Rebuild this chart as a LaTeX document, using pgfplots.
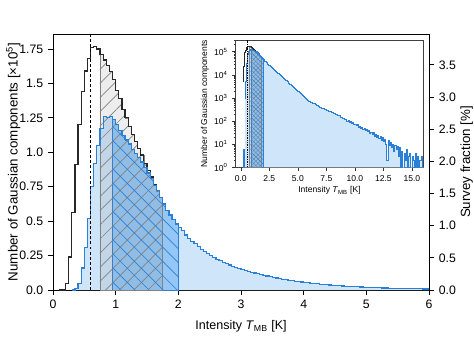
\documentclass[border=0pt]{standalone}
\usepackage{fontspec}
\setmainfont{Liberation Sans}
\usepackage{pgfplots}
\pgfplotsset{compat=1.18}
\usepackage{pgfplotstable}
\usetikzlibrary{patterns.meta}

\definecolor{lblue}{RGB}{207,229,250}
\definecolor{mblue}{RGB}{148,199,245}
\definecolor{bline}{RGB}{42,128,214}
\definecolor{hgray}{RGB}{130,130,130}
\definecolor{kline}{RGB}{40,40,40}

\pgfplotsset{/pgf/number format/assume math mode=true}

% bins of 0.05 K (left edges); values in units of 1e5 components
\pgfplotstableread{
x all sel
0.00 0 0
0.05 0 0
0.10 0 0
0.15 0 0
0.20 0.05 0
0.25 0.24 0
0.30 0.56 0
0.35 0.91 0.01
0.40 1.20 0.05
0.45 1.44 0.16
0.50 1.59 0.31
0.55 1.68 0.52
0.60 1.76 0.75
0.65 1.77 0.92
0.70 1.75 1.05
0.75 1.71 1.17
0.80 1.67 1.26
0.85 1.63 1.25
0.90 1.585 1.26
0.95 1.53 1.24
1.00 1.45 1.20
1.05 1.39 1.16
1.10 1.31 1.12
1.15 1.25 1.09
1.20 1.19 1.06
1.25 1.13 1.02
1.30 1.08 0.99
1.35 1.03 0.96
1.40 0.98 0.93
1.45 0.92 0.89
1.50 0.87 0.85
1.55 0.82 0.81
1.60 0.765 0.76
1.65 0.72 0.72
1.70 0.67 0.67
1.75 0.625 0.625
1.80 0.58 0.58
1.85 0.545 0.545
1.90 0.51 0.51
1.95 0.48 0.48
2.00 0.455 0.455
2.05 0.43 0.43
2.10 0.40 0.40
2.15 0.375 0.375
2.20 0.355 0.355
2.25 0.335 0.335
2.30 0.315 0.315
2.35 0.297 0.297
2.40 0.28 0.28
2.45 0.264 0.264
2.50 0.25 0.25
2.55 0.237 0.237
2.60 0.224 0.224
2.65 0.212 0.212
2.70 0.201 0.201
2.75 0.191 0.191
2.80 0.181 0.181
2.85 0.172 0.172
2.90 0.164 0.164
2.95 0.156 0.156
3.00 0.150 0.150
3.05 0.143 0.143
3.10 0.136 0.136
3.15 0.129 0.129
3.20 0.123 0.123
3.25 0.117 0.117
3.30 0.111 0.111
3.35 0.106 0.106
3.40 0.101 0.101
3.45 0.096 0.096
3.50 0.091 0.091
3.55 0.087 0.087
3.60 0.082 0.082
3.65 0.078 0.078
3.70 0.074 0.074
3.75 0.071 0.071
3.80 0.067 0.067
3.85 0.064 0.064
3.90 0.061 0.061
3.95 0.058 0.058
4.00 0.055 0.055
4.05 0.052 0.052
4.10 0.0496 0.0496
4.15 0.0471 0.0471
4.20 0.0447 0.0447
4.25 0.0425 0.0425
4.30 0.0404 0.0404
4.35 0.0383 0.0383
4.40 0.0364 0.0364
4.45 0.0346 0.0346
4.50 0.0329 0.0329
4.55 0.0312 0.0312
4.60 0.0297 0.0297
4.65 0.0282 0.0282
4.70 0.0268 0.0268
4.75 0.0254 0.0254
4.80 0.0242 0.0242
4.85 0.0230 0.0230
4.90 0.0218 0.0218
4.95 0.0207 0.0207
5.00 0.0197 0.0197
5.05 0.0187 0.0187
5.10 0.0178 0.0178
5.15 0.0169 0.0169
5.20 0.0160 0.0160
5.25 0.0152 0.0152
5.30 0.0145 0.0145
5.35 0.0137 0.0137
5.40 0.0131 0.0131
5.45 0.0124 0.0124
5.50 0.0118 0.0118
5.55 0.0112 0.0112
5.60 0.0106 0.0106
5.65 0.0101 0.0101
5.70 0.0096 0.0096
5.75 0.0091 0.0091
5.80 0.0087 0.0087
5.85 0.0082 0.0082
5.90 0.0078 0.0078
5.95 0.0074 0.0074
6.00 0.0071 0.0071
}\histtab

% inset tail, bins of 0.1 K, same units (1e5 components)
\pgfplotstableread{
x y
6.0 7.08e-3
6.1 6.65e-3
6.2 6.25e-3
6.3 5.9e-3
6.4 5.55e-3
6.5 5.2e-3
6.6 4.9e-3
6.7 4.6e-3
6.8 4.32e-3
6.9 4.05e-3
7.0 3.8e-3
7.1 3.6e-3
7.2 3.45e-3
7.3 3.22e-3
7.4 3.12e-3
7.5 2.92e-3
7.6 2.81e-3
7.7 2.62e-3
7.8 2.55e-3
7.9 2.38e-3
8.0 2.29e-3
8.1 2.12e-3
8.2 2.08e-3
8.3 1.9e-3
8.4 1.86e-3
8.5 1.7e-3
8.6 1.68e-3
8.7 1.5e-3
8.8 1.48e-3
8.9 1.35e-3
9.0 1.32e-3
9.1 1.18e-3
9.2 1.2e-3
9.3 1.0e-3
9.4 1.08e-3
9.5 9.2e-4
9.6 9.5e-4
9.7 8.0e-4
9.8 8.6e-4
9.9 7.0e-4
10.0 7.4e-4
10.1 6.6e-4
10.2 7.0e-4
10.3 5.5e-4
10.4 6.0e-4
10.5 5.0e-4
10.6 5.6e-4
10.7 4.4e-4
10.8 4.8e-4
10.9 3.8e-4
11.0 4.2e-4
11.1 3.5e-4
11.2 4.0e-4
11.3 3.0e-4
11.4 3.3e-4
11.5 2.6e-4
11.6 3.1e-4
11.7 2.2e-4
11.8 2.7e-4
11.9 1.9e-4
12.0 2.4e-4
12.1 1.8e-4
12.2 2.2e-4
12.3 1.5e-4
12.4 1.9e-4
12.5 1.3e-4
12.6 1.7e-4
12.7 1.0e-4
12.8 2e-5
12.9 1.4e-4
13.0 9e-5
13.1 1.2e-4
13.2 7e-5
13.3 1.0e-4
13.4 5e-5
13.5 9e-5
13.6 6e-5
13.7 8e-5
13.8 3e-5
13.9 7e-5
14.0 1e-6
14.1 5e-5
14.2 1e-6
14.3 4e-5
14.4 2e-5
14.5 6e-5
14.6 1e-6
14.7 3e-5
14.8 4e-5
14.9 1e-6
15.0 3e-5
15.1 2e-5
15.2 1e-6
15.3 4e-5
15.4 1e-5
15.5 3e-5
15.6 1e-6
15.7 2e-5
15.8 3e-5
15.9 1e-6
16.0 1e-5
}\tailtab

\begin{document}
\begin{tikzpicture}
\path[use as bounding box] (-39.75pt,-36.75pt) rectangle (315.75pt,217.5pt);

% ---------------- main axis ----------------
\begin{axis}[
  at={(0pt,0pt)}, anchor=south west,
  width=282pt, height=192pt, scale only axis,
  xmin=0, xmax=6, ymin=0, ymax=1.859,
  xtick={0,1,2,3,4,5,6},
  ytick={0,0.25,0.5,0.75,1.0,1.25,1.5,1.75},
  yticklabels={0.0,0.25,0.5,0.75,1.0,1.25,1.5,1.75},
  tick align=outside, xtick pos=bottom, ytick pos=left,
  major tick length=3.8pt,
  every tick/.style={black, line width=0.6pt},
  axis line style={line width=0.7pt, black},
  tick label style={font=\fontsize{9.2}{11}\selectfont},
  label style={font=\fontsize{9.4}{11}\selectfont},
  xlabel={Intensity \textit{T}\textsubscript{MB} [K]},
  ylabel={Number of Gaussian components [×10\textsuperscript{5}]},
  xlabel style={yshift=-2pt},
  every axis y label/.style={at={(axis description cs:0,0.5)}, xshift=-21pt, anchor=south, rotate=90},
]
% light blue area under selected histogram
\addplot[const plot, fill=lblue, draw=none, restrict x to domain=0.3:6.01]
  table[x=x, y=sel]{\histtab} \closedcycle;
% medium blue band 0.95-2.0
\addplot[const plot, fill=mblue, draw=bline, line width=0.5pt, restrict x to domain=0.949:2.001]
  table[x=x, y=sel]{\histtab} \closedcycle;
% grey band 0.75-1.75 under full histogram
\addplot[const plot, fill=gray, fill opacity=0.14, draw=hgray, line width=0.5pt, restrict x to domain=0.749:1.751]
  table[x=x, y=all]{\histtab} \closedcycle;
% hatches
\addplot[const plot, draw=none, pattern={Lines[angle=45,distance=7.5pt,line width=0.5pt]}, pattern color=hgray,
  restrict x to domain=0.749:1.751]
  table[x=x, y=all]{\histtab} \closedcycle;
\addplot[const plot, draw=none, pattern={Lines[angle=-45,distance=7.5pt,line width=0.5pt]}, pattern color=bline,
  restrict x to domain=0.949:2.001]
  table[x=x, y=sel]{\histtab} \closedcycle;
% histogram outlines
\addplot[const plot, draw=kline, line width=0.9pt, restrict x to domain=0.1:6.01]
  table[x=x, y=all]{\histtab};
\addplot[const plot, draw=bline, line width=0.9pt, restrict x to domain=0.3:6.01]
  table[x=x, y=sel]{\histtab};
% threshold
\addplot[black, dash pattern=on 2.2pt off 1.6pt, line width=0.6pt] coordinates {(0.6,0) (0.6,1.859)};
\end{axis}

% ---------------- right axis ----------------
\begin{axis}[
  at={(0pt,0pt)}, anchor=south west,
  width=282pt, height=192pt, scale only axis,
  xmin=0, xmax=6, ymin=0, ymax=3.98,
  axis x line=none, axis y line*=right,
  ytick={0,0.5,1,1.5,2,2.5,3,3.5},
  yticklabel style={/pgf/number format/.cd, fixed, fixed zerofill, precision=1},
  tick align=outside, major tick length=3.8pt,
  every tick/.style={black, line width=0.6pt},
  axis line style={line width=0.7pt, black},
  tick label style={font=\fontsize{9.2}{11}\selectfont},
  label style={font=\fontsize{9.4}{11}\selectfont},
  ylabel={Survey fraction [\%]},
  every axis y label/.style={at={(axis description cs:1,0.5)}, xshift=20pt, anchor=north, rotate=90},
]
\addplot[draw=none] coordinates {(0,0)};
\end{axis}

% ---------------- inset ----------------
\begin{axis}[
  at={(137pt,92pt)}, anchor=south west,
  width=140.7pt, height=95.5pt, scale only axis,
  xmin=-0.45, xmax=16, ymode=log, ymin=1e-5, ymax=3.2,
  log origin y=infty,
  axis background/.style={fill=white},
  xtick={0,2.5,5,7.5,10,12.5,15},
  xticklabel style={/pgf/number format/.cd, fixed, fixed zerofill, precision=1},
  ytick={1e-5,1e-4,1e-3,1e-2,1e-1,1},
  yticklabels={10\textsuperscript{0},10\textsuperscript{1},10\textsuperscript{2},10\textsuperscript{3},10\textsuperscript{4},10\textsuperscript{5}},
  minor ytick={2e-5,3e-5,4e-5,5e-5,6e-5,7e-5,8e-5,9e-5,
               2e-4,3e-4,4e-4,5e-4,6e-4,7e-4,8e-4,9e-4,
               2e-3,3e-3,4e-3,5e-3,6e-3,7e-3,8e-3,9e-3,
               2e-2,3e-2,4e-2,5e-2,6e-2,7e-2,8e-2,9e-2,
               0.2,0.3,0.4,0.5,0.6,0.7,0.8,0.9,2,3},
  tick align=outside, xtick pos=bottom, ytick pos=left,
  major tick length=2.5pt, minor tick length=1.4pt,
  every tick/.style={black!80, line width=0.4pt},
  axis line style={line width=0.5pt, black!75},
  tick label style={font=\fontsize{6.4}{7.5}\selectfont},
  label style={font=\fontsize{6.4}{7.5}\selectfont},
  xlabel={Intensity \textit{T}\textsubscript{MB} [K]},
  ylabel={Number of Gaussian components},
  xlabel style={yshift=3pt},
  ylabel style={yshift=-3pt},
]
\addplot[const plot, fill=lblue, draw=none, restrict x to domain=0.34:6.01]
  table[x=x, y=sel]{\histtab} \closedcycle;
\addplot[const plot, fill=lblue, draw=none]
  table[x=x, y=y]{\tailtab} \closedcycle;
\addplot[const plot, fill=bline, draw=bline, line width=0.3pt]
  coordinates {(0.22,6e-5) (0.27,6e-5)} \closedcycle;
\addplot[const plot, fill=mblue, draw=bline, line width=0.3pt, restrict x to domain=0.949:2.001]
  table[x=x, y=sel]{\histtab} \closedcycle;
\addplot[const plot, fill=gray, fill opacity=0.14, draw=hgray, line width=0.3pt, restrict x to domain=0.749:1.751]
  table[x=x, y=all]{\histtab} \closedcycle;
\addplot[const plot, draw=none, pattern={Lines[angle=45,distance=2.3pt,line width=0.3pt]}, pattern color=hgray,
  restrict x to domain=0.749:1.751]
  table[x=x, y=all]{\histtab} \closedcycle;
\addplot[const plot, draw=none, pattern={Lines[angle=-45,distance=2.3pt,line width=0.3pt]}, pattern color=bline,
  restrict x to domain=0.949:2.001]
  table[x=x, y=sel]{\histtab} \closedcycle;
\addplot[const plot, draw=kline, line width=0.5pt, restrict x to domain=0.19:2.01]
  table[x=x, y=all]{\histtab};
\addplot[const plot, draw=bline, line width=0.55pt, restrict x to domain=0.34:6.01]
  table[x=x, y=sel]{\histtab};
\addplot[const plot, draw=bline, line width=0.55pt]
  table[x=x, y=y]{\tailtab};
\addplot[black, dash pattern=on 1pt off 0.8pt, line width=0.35pt] coordinates {(0.6,1e-5) (0.6,3.2)};
\end{axis}
\end{tikzpicture}
\end{document}
